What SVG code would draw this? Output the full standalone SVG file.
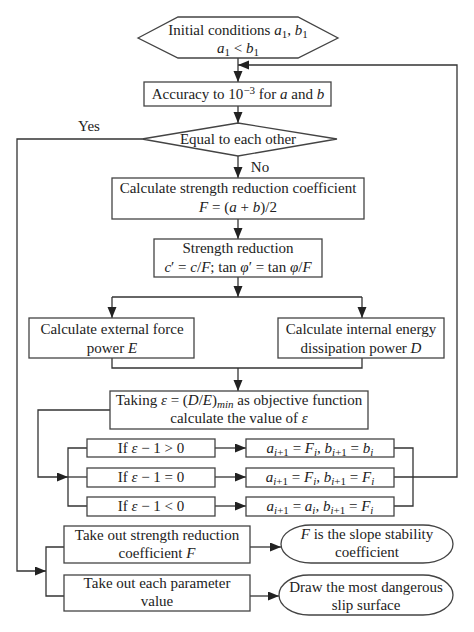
<svg xmlns="http://www.w3.org/2000/svg" width="474" height="632" viewBox="0 0 474 632">
<style>
.b{fill:#fff;stroke:#444;stroke-width:1.3}
.c{fill:none;stroke:#333;stroke-width:1.3}
text{font-family:"Liberation Serif","Times New Roman",serif;font-size:15px;fill:#222;text-anchor:middle}
.i{font-style:italic}
.s{font-size:11px}
</style>
<defs>
<marker id="ah" markerUnits="userSpaceOnUse" markerWidth="12" markerHeight="10" refX="11" refY="4.5" orient="auto">
<path d="M0,0 L11,4.5 L0,9 z" fill="#222"/>
</marker>
</defs>
<rect width="474" height="632" fill="#fff"/>
<g id="connectors">
<line class="c" x1="238" y1="58" x2="238" y2="82" marker-end="url(#ah)"/>
<line class="c" x1="238" y1="106" x2="238" y2="123" marker-end="url(#ah)"/>
<line class="c" x1="238" y1="156" x2="238" y2="178" marker-end="url(#ah)"/>
<polyline class="c" points="142,139 17,139 17,571 46,571" marker-end="url(#ah)"/>
<line class="c" x1="238" y1="219" x2="238" y2="239" marker-end="url(#ah)"/>
<line class="c" x1="238" y1="277" x2="238" y2="297" marker-end="url(#ah)"/>
<line class="c" x1="112" y1="297" x2="362" y2="297"/>
<line class="c" x1="112" y1="297" x2="112" y2="318" marker-end="url(#ah)"/>
<line class="c" x1="362" y1="297" x2="362" y2="318" marker-end="url(#ah)"/>
<polyline class="c" points="112,358 112,368 362,368 362,358"/>
<line class="c" x1="238" y1="368" x2="238" y2="391" marker-end="url(#ah)"/>
<polyline class="c" points="110,410 38,410 38,477 68,477" marker-end="url(#ah)"/>
<polyline class="c" points="87,448 68,448 68,506 87,506"/>
<line class="c" x1="68" y1="477" x2="87" y2="477"/>
<line class="c" x1="215" y1="448" x2="246" y2="448" marker-end="url(#ah)"/>
<line class="c" x1="215" y1="477" x2="246" y2="477" marker-end="url(#ah)"/>
<line class="c" x1="215" y1="506" x2="246" y2="506" marker-end="url(#ah)"/>
<polyline class="c" points="394,448 413,448 413,506 394,506"/>
<polyline class="c" points="394,477 457,477 457,65 238,65" marker-end="url(#ah)"/>
<polyline class="c" points="64,547 46,547 46,596 64,596"/>
<line class="c" x1="250" y1="547" x2="281" y2="547" marker-end="url(#ah)"/>
<line class="c" x1="250" y1="596" x2="279" y2="596" marker-end="url(#ah)"/>
</g>
<g id="n-init">
<polygon class="b" points="138,38 178,17 298,17 338,38 298,58 178,58"/>
<text x="238" y="35">Initial conditions <tspan class="i">a</tspan><tspan class="s" baseline-shift="-3">1</tspan>, <tspan class="i">b</tspan><tspan class="s" baseline-shift="-3">1</tspan></text>
<text x="238" y="53"><tspan class="i">a</tspan><tspan class="s" baseline-shift="-3">1</tspan> &lt; <tspan class="i">b</tspan><tspan class="s" baseline-shift="-3">1</tspan></text>
</g>
<g id="n-acc">
<rect class="b" x="144" y="82" width="187" height="24"/>
<text x="238" y="99">Accuracy to 10<tspan class="s" baseline-shift="5">−3</tspan> for <tspan class="i">a</tspan> and <tspan class="i">b</tspan></text>
</g>
<g id="n-eq">
<polygon class="b" points="142,139 238,123 337,139 238,156"/>
<text x="238" y="144">Equal to each other</text>
</g>
<text x="89" y="131">Yes</text>
<text x="260" y="172">No</text>
<g id="n-calcF">
<rect class="b" x="112" y="178" width="252" height="41"/>
<text x="238" y="193">Calculate strength reduction coefficient</text>
<text x="238" y="212"><tspan class="i">F</tspan> = (<tspan class="i">a</tspan> + <tspan class="i">b</tspan>)/2</text>
</g>
<g id="n-sr">
<rect class="b" x="154" y="239" width="168" height="38"/>
<text x="238" y="253">Strength reduction</text>
<text x="238" y="272"><tspan class="i">c</tspan>′ = <tspan class="i">c</tspan>/<tspan class="i">F</tspan>; tan <tspan class="i">φ</tspan>′ = tan <tspan class="i">φ</tspan>/<tspan class="i">F</tspan></text>
</g>
<g id="n-ext">
<rect class="b" x="29" y="318" width="165" height="40"/>
<text x="112" y="334">Calculate external force</text>
<text x="112" y="353">power <tspan class="i">E</tspan></text>
</g>
<g id="n-int">
<rect class="b" x="278" y="318" width="166" height="40"/>
<text x="361" y="334">Calculate internal energy</text>
<text x="361" y="353">dissipation power <tspan class="i">D</tspan></text>
</g>
<g id="n-obj">
<rect class="b" x="110" y="391" width="258" height="38"/>
<text x="239" y="405">Taking <tspan class="i">ε</tspan> = (<tspan class="i">D</tspan>/<tspan class="i">E</tspan>)<tspan class="s i" baseline-shift="-3">min</tspan> as objective function</text>
<text x="239" y="423">calculate the value of <tspan class="i">ε</tspan></text>
</g>
<g id="n-if1">
<rect class="b" x="87" y="439" width="128" height="18"/>
<text x="151" y="453">If <tspan class="i">ε</tspan> − 1 &gt; 0</text>
</g>
<g id="n-if2">
<rect class="b" x="87" y="468" width="128" height="19"/>
<text x="151" y="482">If <tspan class="i">ε</tspan> − 1 = 0</text>
</g>
<g id="n-if3">
<rect class="b" x="87" y="497" width="128" height="19"/>
<text x="151" y="511">If <tspan class="i">ε</tspan> − 1 &lt; 0</text>
</g>
<g id="n-r1">
<rect class="b" x="246" y="439" width="148" height="18"/>
<text x="320" y="453"><tspan class="i">a</tspan><tspan class="s" baseline-shift="-3"><tspan class="i">i</tspan>+1</tspan> = <tspan class="i">F</tspan><tspan class="s i" baseline-shift="-3">i</tspan>, <tspan class="i">b</tspan><tspan class="s" baseline-shift="-3"><tspan class="i">i</tspan>+1</tspan> = <tspan class="i">b</tspan><tspan class="s i" baseline-shift="-3">i</tspan></text>
</g>
<g id="n-r2">
<rect class="b" x="246" y="468" width="148" height="19"/>
<text x="320" y="482"><tspan class="i">a</tspan><tspan class="s" baseline-shift="-3"><tspan class="i">i</tspan>+1</tspan> = <tspan class="i">F</tspan><tspan class="s i" baseline-shift="-3">i</tspan>, <tspan class="i">b</tspan><tspan class="s" baseline-shift="-3"><tspan class="i">i</tspan>+1</tspan> = <tspan class="i">F</tspan><tspan class="s i" baseline-shift="-3">i</tspan></text>
</g>
<g id="n-r3">
<rect class="b" x="246" y="497" width="148" height="19"/>
<text x="320" y="511"><tspan class="i">a</tspan><tspan class="s" baseline-shift="-3"><tspan class="i">i</tspan>+1</tspan> = <tspan class="i">a</tspan><tspan class="s i" baseline-shift="-3">i</tspan>, <tspan class="i">b</tspan><tspan class="s" baseline-shift="-3"><tspan class="i">i</tspan>+1</tspan> = <tspan class="i">F</tspan><tspan class="s i" baseline-shift="-3">i</tspan></text>
</g>
<g id="n-take1">
<rect class="b" x="64" y="526" width="186" height="37"/>
<text x="157" y="540">Take out strength reduction</text>
<text x="157" y="558">coefficient <tspan class="i">F</tspan></text>
</g>
<g id="n-take2">
<rect class="b" x="64" y="575" width="186" height="36"/>
<text x="157" y="588">Take out each parameter</text>
<text x="157" y="606">value</text>
</g>
<g id="n-fstab">
<rect class="b" x="281" y="525" width="172" height="38" rx="30" ry="19"/>
<text x="367" y="539"><tspan class="i">F</tspan> is the slope stability</text>
<text x="367" y="557">coefficient</text>
</g>
<g id="n-slip">
<rect class="b" x="279" y="575" width="174" height="40" rx="30" ry="20"/>
<text x="366" y="592">Draw the most dangerous</text>
<text x="366" y="610">slip surface</text>
</g>
</svg>
